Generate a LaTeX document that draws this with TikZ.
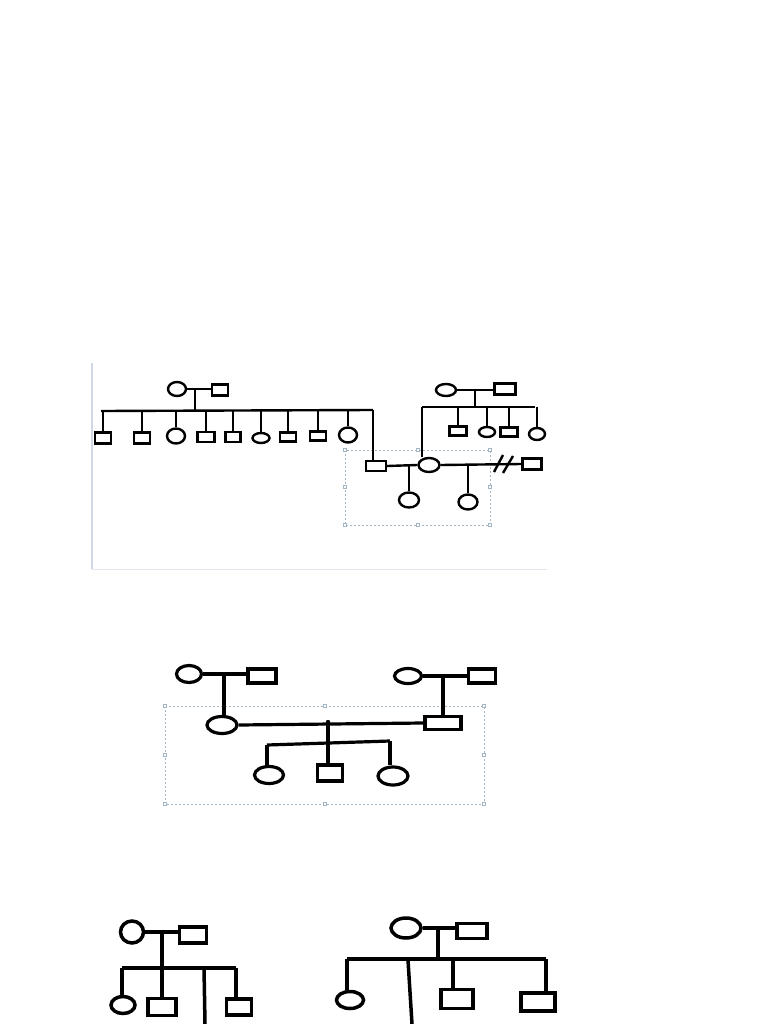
\documentclass[tikz,border=0pt]{standalone}
\usetikzlibrary{shapes.geometric}
\definecolor{selc}{HTML}{A3B6C4}
\definecolor{framec}{HTML}{D3D8E8}
\definecolor{framec2}{HTML}{E2E6EC}
\tikzset{
  fem/.style 2 args={draw,ellipse,inner sep=0pt,minimum width=#1,minimum height=#2},
  mal/.style 2 args={draw,rectangle,inner sep=0pt,minimum width=#1,minimum height=#2},
  sel/.style={draw=selc,line width=0.7pt,dash pattern=on 2pt off 2pt},
  handle/.style={draw=selc,fill=white,line width=0.5pt,rectangle,inner sep=0pt,minimum size=3pt},
  thinp/.style={line width=2.4pt},
  midp/.style={line width=3.2pt},
  botp/.style={line width=3.5pt},
}
\begin{document}
\begin{tikzpicture}[x=1pt,y=-1pt]
\useasboundingbox[fill=white] (0,0) rectangle (768,1024);

% ---------------- top panel frame ----------------
\draw[framec,line width=2.8pt] (92,363) -- (92,569);
\draw[framec2,line width=1pt] (92,569) -- (547,569);

% selection box (top)
\draw[sel] (345,450) rectangle (490,525);
\foreach \hx/\hy [count=\i] in {345/450,418/450,490/450,345/487,490/487,345/525,418/525,490/525}
  \node[handle] (th\i) at (\hx,\hy) {};

\begin{scope}[thinp]
% grandparents (left)
\node[fem={18pt}{14pt}] (gpF) at (177,389) {};
\node[mal={16pt}{11pt}] (gpM) at (220,390) {};
\draw (gpF.east) -- (gpF.east -| gpM.west);
\coordinate (gpD) at (195,389);
\coordinate (s1L) at (101,411);
\coordinate (s1R) at (373,410);
\draw (gpD) -- (gpD |- s1L);
\draw (s1L) -- (s1R);
% children of left grandparents
\node[mal={16pt}{11pt}] (c1) at (103,438) {};
\node[mal={16pt}{11pt}] (c2) at (142,438) {};
\node[fem={18pt}{15pt}] (c3) at (176,436) {};
\node[mal={17pt}{10pt}] (c4) at (206,437) {};
\node[mal={15pt}{10pt}] (c5) at (233,437) {};
\node[fem={17pt}{10pt}] (c6) at (261,438) {};
\node[mal={16pt}{9pt}] (c7) at (288,437) {};
\node[mal={16pt}{9pt}] (c8) at (318,436) {};
\node[fem={18pt}{15pt}] (c9) at (348,435) {};
\foreach \c in {c1,c2,c3,c4,c5,c6,c7,c8,c9}
  \draw (\c.north |- s1L) -- (\c.north);
% husband and wife
\node[mal={20pt}{10pt}] (h1) at (376,466) {};
\draw (s1R) -- (s1R |- h1.north);
\node[fem={21pt}{14pt}] (w1) at (429,465) {};
\draw (h1.east) -- (w1.west);
\node[fem={20pt}{15pt}] (k1) at (409,500) {};
\draw (k1.north |- h1.east) -- (k1.north);
% wife's parents
\node[fem={20pt}{12pt}] (wpF) at (446,390) {};
\node[mal={21pt}{11pt}] (wpM) at (505,389) {};
\draw (wpF.east) -- (wpF.east -| wpM.west);
\coordinate (wpD) at (475,390);
\coordinate (s2L) at (422,407);
\coordinate (s2R) at (535,407);
\draw (wpD) -- (wpD |- s2L);
\draw (s2L) -- (s2R);
\draw (s2L) -- (s2L |- w1.north);
\node[mal={17pt}{9pt}] (d1) at (458,431) {};
\node[fem={16pt}{10pt}] (d2) at (487,432) {};
\node[mal={17pt}{9pt}] (d3) at (509,432) {};
\node[fem={16pt}{12pt}] (d4) at (537,434) {};
\foreach \c in {d1,d2,d3,d4}
  \draw (\c.north |- s2L) -- (\c.north);
% second husband (divorced)
\node[mal={19pt}{11pt}] (h2) at (532,464) {};
\draw (w1.east) -- (h2.west);
\draw (494,472) -- (503,455);
\draw (503,473) -- (513,456);
\node[fem={19pt}{15pt}] (k2) at (468,502) {};
\draw (k2.north |- w1.east) -- (k2.north);
\end{scope}

% ---------------- middle panel ----------------
\draw[sel] (165,706) rectangle (484,804);
\foreach \hx/\hy [count=\i] in {165/706,325/706,484/706,165/755,484/755,165/804,325/804,484/804}
  \node[handle] (mh\i) at (\hx,\hy) {};

\begin{scope}[midp]
\node[fem={25pt}{17pt}] (mF) at (189,674) {};
\node[mal={28pt}{14pt}] (mM) at (262,676) {};
\draw (mF.east) -- (mF.east -| mM.west);
\coordinate (mD) at (224,675);
\node[fem={30pt}{17pt}] (mo) at (222,725) {};
\draw (mD) -- (mD |- mo.north);
\node[fem={27pt}{15pt}] (rF) at (408,676) {};
\node[mal={27pt}{14pt}] (rM) at (482,676) {};
\draw (rF.east) -- (rM.west);
\coordinate (rD) at (443,676);
\node[mal={36pt}{13pt}] (fa) at (443,723) {};
\draw (rD) -- (rD |- fa.north);
\draw (mo.east) -- (fa.west);
\coordinate (md) at (328,722);
\fill (md) circle (2.2pt);
\node[mal={25pt}{16pt}] (g2) at (330,773) {};
\draw (md) -- (md |- g2.north);
\coordinate (sL) at (267,745);
\coordinate (sR) at (390,741);
\draw (sL) -- (sR);
\node[fem={29pt}{17pt}] (g1) at (269,775) {};
\node[fem={30pt}{18pt}] (g3) at (393,776) {};
\draw (sL) -- (sL |- g1.north);
\draw (sR) -- (sR |- g3.north);
\end{scope}

% ---------------- bottom left ----------------
\begin{scope}[botp]
\node[fem={23pt}{22pt}] (bF) at (132,932) {};
\node[mal={27pt}{16pt}] (bM) at (193,935) {};
\draw (bF.east) -- (bF.east -| bM.west);
\coordinate (bD) at (162,932);
\coordinate (bL) at (122,968);
\coordinate (bR) at (236,968);
\draw (bD) -- (bD |- bL);
\draw (bL) -- (bR);
\node[fem={24pt}{17pt}] (b1) at (123,1005) {};
\node[mal={28pt}{17pt}] (b2) at (162,1007) {};
\node[mal={25pt}{16pt}] (b4) at (239,1007) {};
\coordinate (b3top) at (204,968);
\coordinate (b3end) at (205,1024);
\draw (bL) -- (bL |- b1.north);
\draw (b2.north |- bL) -- (b2.north);
\draw (b3top) -- (b3end);
\draw (bR) -- (bR |- b4.north);
\end{scope}

% ---------------- bottom right ----------------
\begin{scope}[botp]
\node[fem={30pt}{20pt}] (eF) at (406,928) {};
\node[mal={30pt}{15pt}] (eM) at (472,931) {};
\draw (eF.east) -- (eF.east -| eM.west);
\coordinate (eD) at (438,927);
\coordinate (eL) at (347,959);
\coordinate (eR) at (546,959);
\draw (eD) -- (eD |- eL);
\draw (eL) -- (eR);
\node[fem={27pt}{17pt}] (e1) at (350,1000) {};
\node[mal={32pt}{19pt}] (e3) at (457,999) {};
\node[mal={34pt}{18pt}] (e4) at (538,1002) {};
\coordinate (e2top) at (408,960);
\coordinate (e2end) at (412,1024);
\coordinate (e3top) at (453,959);
\draw (eL) -- (eL |- e1.north);
\draw (e2top) -- (e2end);
\draw (e3top) -- (e3top |- e3.north);
\draw (eR) -- (eR |- e4.north);
\end{scope}
\end{tikzpicture}
\end{document}
